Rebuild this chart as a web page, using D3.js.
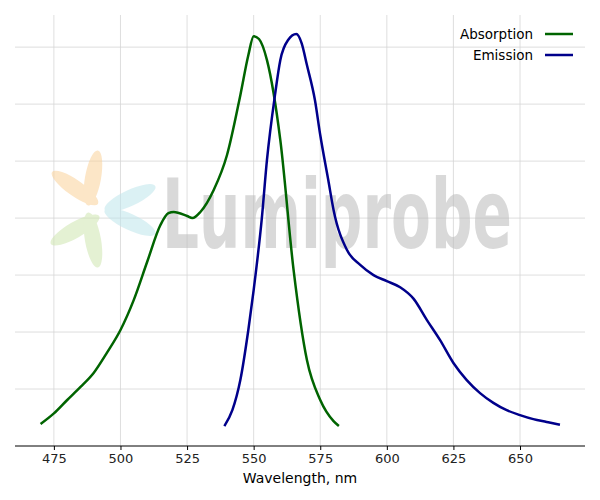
<!DOCTYPE html>
<html><head><meta charset="utf-8">
<script src="https://cdn.jsdelivr.net/npm/d3@7"></script>
<style>body{margin:0;background:#fff}text{font-family:"DejaVu Sans",sans-serif}</style>
</head><body><svg id="c" width="600" height="500"></svg>
<script>
// wavelength (nm) vs normalized intensity
const absX = [470,475,480,485,490,495,500,505,510,515,518,520,525,527,530,535,540,545,548,550,552,555,560,565,570,575,580,582];
const absY = [0.054,0.08,0.113,0.145,0.18,0.23,0.285,0.359,0.452,0.543,0.572,0.575,0.565,0.56,0.575,0.629,0.715,0.862,0.96,1.007,1.0,0.948,0.752,0.432,0.211,0.113,0.061,0.049];
const emX = [539,542,545,548,550,553,555,558,560,563,566,568,570,573,575,578,580,585,590,595,600,605,610,615,620,625,630,635,640,645,650,655,660,665];
const emY = [0.049,0.088,0.162,0.285,0.383,0.555,0.703,0.862,0.948,0.998,1.012,0.99,0.936,0.85,0.764,0.654,0.58,0.482,0.445,0.42,0.405,0.39,0.362,0.31,0.26,0.204,0.162,0.13,0.106,0.088,0.076,0.066,0.059,0.052];
const xTicks = [475,500,525,550,575,600,625,650];
const yTicks = [0.14,0.28,0.42,0.56,0.70,0.84,0.98];

const svg = d3.select("#c");
const x = d3.scaleLinear().domain([460.4, 674.4]).range([15, 585]);
const y = d3.scaleLinear().domain([0, 1]).range([446, 39]);

// grid
svg.append("g").selectAll("line").data(xTicks).join("line")
  .attr("x1", d => x(d)).attr("x2", d => x(d)).attr("y1", 15).attr("y2", 446)
  .attr("stroke", "#d6d6d6").attr("stroke-width", 0.8);
svg.append("g").selectAll("line").data(yTicks).join("line")
  .attr("x1", 15).attr("x2", 585).attr("y1", d => y(d)).attr("y2", d => y(d))
  .attr("stroke", "#d6d6d6").attr("stroke-width", 0.8);

// watermark
const wm = svg.append("g").attr("opacity", 0.55);
const petal = (cx, cy, rot, col) => wm.append("ellipse")
  .attr("cx", 0).attr("cy", 0).attr("rx", 28).attr("ry", 8)
  .attr("transform", `translate(${cx},${cy}) rotate(${rot})`).attr("fill", col);
petal(75, 188, 35, "#fbd29a");
petal(93, 178, -80, "#fbd29a");
petal(75, 230, -30, "#cfe6b0");
petal(93, 240, 80, "#cfe6b0");
petal(130, 198, -25, "#bfe6ec");
petal(130, 222, 25, "#bfe6ec");
wm.append("text").attr("x", 162).attr("y", 248).attr("font-size", 96)
  .attr("font-weight", "bold").attr("fill", "#bbb")
  .attr("textLength", 350).attr("lengthAdjust", "spacingAndGlyphs").text("Lumiprobe");

const line = d3.line().x(d => x(d[0])).y(d => y(d[1])).curve(d3.curveMonotoneX);
svg.append("path").datum(d3.zip(absX, absY)).attr("d", line)
  .attr("fill", "none").attr("stroke", "#006400").attr("stroke-width", 2.5);
svg.append("path").datum(d3.zip(emX, emY)).attr("d", line)
  .attr("fill", "none").attr("stroke", "#00008b").attr("stroke-width", 2.5);

// axis
const ax = svg.append("g").attr("transform", "translate(0,446)")
  .call(d3.axisBottom(x).tickValues(xTicks).tickSize(4).tickPadding(4));
ax.select(".domain").attr("d", "M15,0H585");
ax.selectAll("text").attr("font-size", 13).attr("fill", "#222");
svg.append("text").attr("x", 300).attr("y", 483).attr("text-anchor", "middle")
  .attr("font-size", 14).text("Wavelength, nm");

// legend
const leg = [["Absorption", "#006400"], ["Emission", "#00008b"]];
leg.forEach((l, i) => {
  const yy = 34 + i * 21;
  svg.append("text").attr("x", 533).attr("y", yy + 5).attr("text-anchor", "end")
    .attr("font-size", 13.5).text(l[0]);
  svg.append("line").attr("x1", 545).attr("x2", 573).attr("y1", yy).attr("y2", yy)
    .attr("stroke", l[1]).attr("stroke-width", 2.5);
});
</script></body></html>
